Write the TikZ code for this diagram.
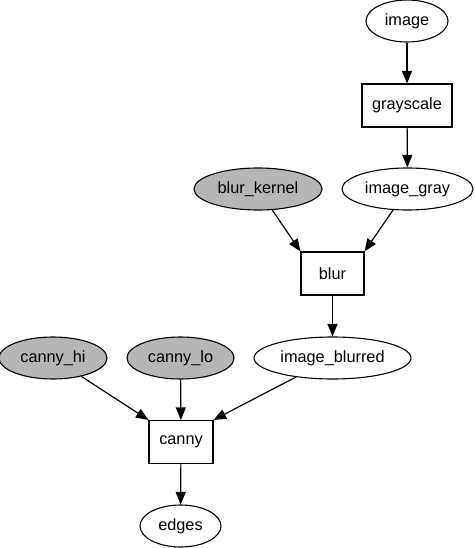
\documentclass[tikz,border=0pt]{standalone}
\usepackage{fontspec}
\setmainfont{Liberation Sans}
\usetikzlibrary{shapes.geometric,arrows.meta}
\begin{document}
\begin{tikzpicture}[x=1pt,y=-1pt,
  every node/.style={font=\fontsize{16.3}{19}\selectfont, inner sep=0pt, line width=1.1pt, draw=black},
  data/.style={ellipse, fill=white},
  param/.style={ellipse, fill=gray!50!white!95!black},
  op/.style={rectangle, fill=white},
  conn/.style={draw=black, line width=1.2pt, -{Triangle[length=12.5pt,width=10pt]}}]
\useasboundingbox (0,0) rectangle (474,548);
\node[data, minimum width=82pt, minimum height=42pt] (image) at (407,21) {image};
\node[op, minimum width=90pt, minimum height=43pt] (grayscale) at (407,105.5) {grayscale};
\node[data, minimum width=131pt, minimum height=42pt] (imagegray) at (407.5,189) {image\_gray};
\node[param, minimum width=128pt, minimum height=42pt] (blurkernel) at (258,189) {blur\_kernel};
\node[op, minimum width=63pt, minimum height=43pt] (blur) at (332.5,273.5) {blur};
\node[data, minimum width=157pt, minimum height=42pt] (imageblurred) at (332.5,358) {image\_blurred};
\node[param, minimum width=108pt, minimum height=42pt] (cannyhi) at (53,358) {canny\_hi};
\node[param, minimum width=107pt, minimum height=42pt] (cannylo) at (180.5,358) {canny\_lo};
\node[op, minimum width=64pt, minimum height=43pt] (canny) at (181,442) {canny};
\node[data, minimum width=81pt, minimum height=42pt] (edges) at (180.5,526) {edges};
\draw[conn] (image) -- (grayscale);
\draw[conn] (grayscale) -- (imagegray);
\draw[conn] (blurkernel) -- (blur.north west);
\draw[conn] (imagegray) -- (blur.north east);
\draw[conn] (blur) -- (imageblurred);
\draw[conn] (cannyhi) -- (canny.north west);
\draw[conn] (cannylo) -- (canny);
\draw[conn] (imageblurred) -- (canny.north east);
\draw[conn] (canny) -- (edges);
\end{tikzpicture}
\end{document}
